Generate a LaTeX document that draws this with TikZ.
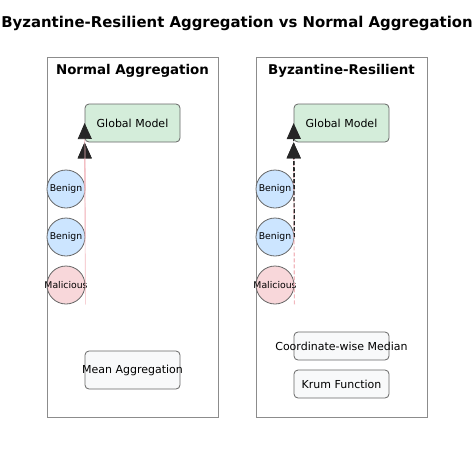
\documentclass[tikz,border=0pt]{standalone}
\usepackage{fontspec}
\setmainfont{DejaVu Sans}
\usepackage{xcolor}
\usetikzlibrary{arrows.meta}
\definecolor{gmgreen}{HTML}{D4EDDA}
\definecolor{okblue}{HTML}{CCE5FF}
\definecolor{badpink}{HTML}{F8D7DA}
\definecolor{aggray}{HTML}{F8F9FA}
\definecolor{lnpink}{HTML}{F2B8BE}

\begin{document}
\begin{tikzpicture}[x=1pt,y=-1pt,node distance=48pt,
  panel/.style={draw=black!45,line width=0.8pt,minimum width=171pt,minimum height=360pt,inner sep=0pt},
  boxfont/.style={font=\fontsize{11}{13}\selectfont},
  clfont/.style={font=\fontsize{9.3}{11}\selectfont},
  box/.style={draw=black!60,line width=0.8pt,rounded corners=4pt,minimum width=95pt,minimum height=38pt,inner sep=0pt,boxfont},
  client/.style={circle,draw=black!60,line width=0.8pt,minimum size=38pt,inner sep=0pt,clfont},
  upd/.style={-{Triangle[width=14pt,length=16pt,color=black!85]}}]
\useasboundingbox (0,0) rectangle (474,474);

\node(T) at (237,23) {\fontsize{14.9}{17}\selectfont\bfseries Byzantine-Resilient Aggregation vs Normal Aggregation};

% normal aggregation
\node(LP) [panel] at (132.5,237) {};
\node(LT) at (132.5,71) {\fontsize{13.4}{15}\selectfont\bfseries Normal Aggregation};
\node(LG) [box,fill=gmgreen] at (132.5,123) {Global Model};
\node(LB1) [client,fill=okblue] at (66,189) {Benign};
\node(LB2) [client,fill=okblue,below of=LB1] {Benign};
\node(LM) [client,fill=badpink,below of=LB2,label={[clfont]center:Malicious}] {};
\node(LA) [box,fill=aggray,label={[boxfont]center:Mean Aggregation}] at (132.5,370) {};

\draw[upd,draw=lnpink,line width=0.7pt] (LM.east |- LM.south) -- (LG.south west);
\draw[upd,draw=lnpink,line width=0.7pt] (LB2.east) -- (LG.south west);
\draw[upd,draw=lnpink,line width=0.7pt] (LB1.east) -- (LG.west);

% byzantine-resilient
\node(RP) [panel] at (341.5,237) {};
\node(RT) at (341.5,71) {\fontsize{13.4}{15}\selectfont\bfseries Byzantine-Resilient};
\node(RG) [box,fill=gmgreen] at (341.5,123) {Global Model};
\node(RB1) [client,fill=okblue] at (275,189) {Benign};
\node(RB2) [client,fill=okblue,below of=RB1] {Benign};
\node(RM) [client,fill=badpink,below of=RB2,label={[clfont]center:Malicious}] {};
\node(RC) [box,fill=aggray,minimum height=28pt,label={[boxfont]center:Coordinate-wise Median}] at (341.5,346) {};
\node(RK) [box,fill=aggray,minimum height=28pt] at (341.5,384) {Krum Function};

\draw[upd,draw=lnpink,line width=1.2pt,dash pattern=on 4pt off 2pt] (RM.east |- RM.south) -- (RG.south west);
\draw[upd,draw=black!85,line width=1.2pt,dash pattern=on 4pt off 2pt] (RB2.east) -- (RG.south west);
\draw[upd,draw=black!85,line width=1.2pt,dash pattern=on 4pt off 2pt] (RB1.east) -- (RG.west);
\end{tikzpicture}
\end{document}
